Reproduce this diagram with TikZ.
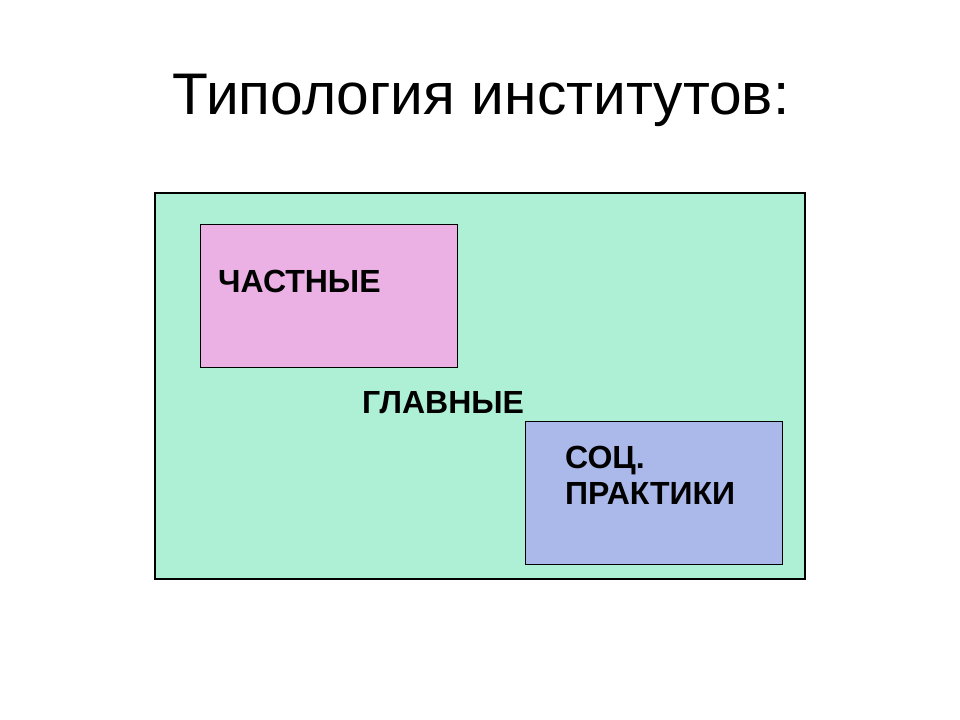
\documentclass[tikz,border=0pt]{standalone}
\usepackage{fontspec}
\setmainfont{Liberation Sans}
\definecolor{mintbg}{RGB}{174,240,214}
\definecolor{pinkbox}{RGB}{235,176,228}
\definecolor{bluebox}{RGB}{170,185,233}
\tikzset{
  panel/.style={draw=black, line width=1.2bp},
  lbl/.style={font=\fontsize{32bp}{36bp}\selectfont\bfseries, inner sep=0pt, anchor=base west},
  ttl/.style={font=\fontsize{58.7bp}{64bp}\selectfont, inner sep=0pt, anchor=base}
}
\begin{document}
\begin{tikzpicture}[x=1bp, y=-1bp]
\useasboundingbox (0,0) rectangle (960,720);
\fill[white] (0,0) rectangle (960,720);
\node[ttl] (title) at (481,115) {Типология институтов:};
\draw[panel, fill=mintbg] (155,193) rectangle (805,579);
\node[panel, fill=pinkbox, minimum width=257bp, minimum height=143bp, inner sep=0pt, anchor=north west] (chast) at (200,224) {};
\node[panel, fill=bluebox, minimum width=257bp, minimum height=143bp, inner sep=0pt, anchor=north west] (soc) at (525,421) {};
\node[lbl] (tchast) at (218,292) {ЧАСТНЫЕ};
\node[lbl] (tglav) at (362,413) {ГЛАВНЫЕ};
\node[lbl] (tsoc1) at (565,468) {СОЦ.};
\node[lbl] (tsoc2) at (565,504) {ПРАКТИКИ};
\end{tikzpicture}
\end{document}
